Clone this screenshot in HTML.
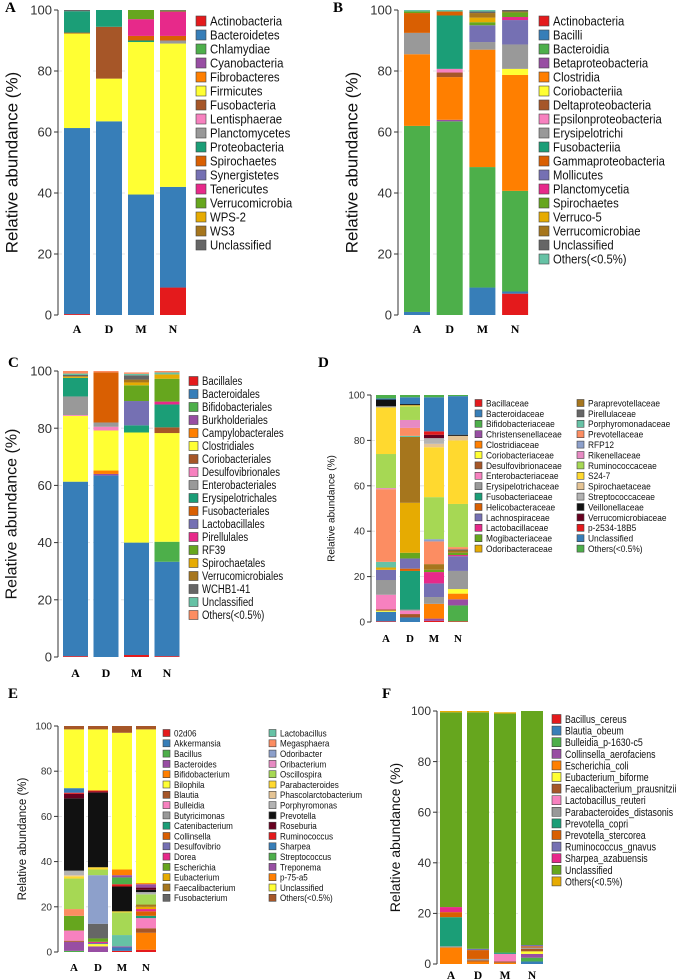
<!DOCTYPE html>
<html><head><meta charset="utf-8"><style>
html,body{margin:0;padding:0;background:#fff}
svg{display:block;font-family:"Liberation Sans",sans-serif}
</style></head><body>
<svg id="fig" width="685" height="980" viewBox="0 0 685 980" xmlns="http://www.w3.org/2000/svg"></svg>
<script>
const PAL=['#e41a1c','#377eb8','#4daf4a','#984ea3','#ff7f00','#ffff33','#a65628','#f781bf','#999999','#1b9e77','#d95f02','#7570b3','#e7298a','#66a61e','#e6ab02','#a6761d','#666666','#66c2a5','#fc8d62','#8da0cb','#e78ac3','#a6d854','#ffd92f','#e5c494','#b3b3b3','#111111','#67001f'];
const groups=['A','D','M','N'];
const yTicks=[0,20,40,60,80,100];

// Panel A (phylum)
const A_names=['Actinobacteria','Bacteroidetes','Chlamydiae','Cyanobacteria','Fibrobacteres','Firmicutes','Fusobacteria','Lentisphaerae','Planctomycetes','Proteobacteria','Spirochaetes','Synergistetes','Tenericutes','Verrucomicrobia','WPS-2','WS3','Unclassified'];
const A_values=[[0.3,0,0,9],[61,63.5,39.5,33],[0,0,0,0],[0,0,0,0],[0,0,0,0],[31,14,50,47],[0.3,17,0,0],[0,0,0,0],[0,0,0,1],[7,5.5,0.5,0],[0,0,1.5,1.5],[0,0,0,0],[0,0,5.5,8],[0,0,3,0.3],[0,0,0,0],[0,0,0,0],[0.4,0,0,0.2]];
// Panel B (class)
const B_names=['Actinobacteria','Bacilli','Bacteroidia','Betaproteobacteria','Clostridia','Coriobacteriia','Deltaproteobacteria','Epsilonproteobacteria','Erysipelotrichi','Fusobacteriia','Gammaproteobacteria','Mollicutes','Planctomycetia','Spirochaetes','Verruco-5','Verrucomicrobiae','Unclassified','Others(<0.5%)'];
const B_values=[[0,0,0,7],[1,0,9,0.7],[61,63.5,39.5,33],[0,0.5,0,0],[23.5,14,38.5,38],[0,0,0,2],[0,1.5,0,0],[0,1.2,0,0],[7,0,2.5,8],[0,17.5,0,0],[6.5,1.3,0,0],[0,0,5.5,8],[0,0,0,1],[0.5,0,1,1.5],[0,0,1.5,0],[0,0,1.5,0.3],[0,0,0.5,0.5],[0.5,0.5,0.5,0]];
// Panel C (order)
const C_names=['Bacillales','Bacteroidales','Bifidobacteriales','Burkholderiales','Campylobacterales','Clostridiales','Coriobacteriales','Desulfovibrionales','Enterobacteriales','Erysipelotrichales','Fusobacteriales','Lactobacillales','Pirellulales','RF39','Spirochaetales','Verrucomicrobiales','WCHB1-41','Unclassified','Others(<0.5%)'];
const C_values=[[0.3,0,0.7,0.3],[61,63.5,39.3,33],[0,0,0,7],[0,0.5,0,0],[0,1.2,0,0],[23,14,38.5,38],[0,0,0,2],[0.3,1.3,0,0],[6.5,1.5,0,0],[6.5,0,2.5,8],[0,17.5,0,0],[0,0,8.5,0],[0,0,0,1],[0,0,5.5,8],[0.5,0,1,1.5],[0,0,1,0],[0.5,0,1.5,0],[0.5,0,0.5,0.7],[0.9,0.5,0.5,0.5]];
// Panel D (family)
const D_names=['Bacillaceae','Bacteroidaceae','Bifidobacteriaceae','Christensenellaceae','Clostridiaceae','Coriobacteriaceae','Desulfovibrionaceae','Enterobacteriaceae','Erysipelotrichaceae','Fusobacteriaceae','Helicobacteraceae','Lachnospiraceae','Lactobacillaceae','Mogibacteriaceae','Odoribacteraceae','Paraprevotellaceae','Pirellulaceae','Porphyromonadaceae','Prevotellaceae','RFP12','Rikenellaceae','Ruminococcaceae','S24-7','Spirochaetaceae','Streptococcaceae','Veillonellaceae','Verrucomicrobiaceae','p-2534-18B5','Unclassified','Others(<0.5%)'];
const D_values=[[0.3,0,0.5,0.3],[4.2,2,0,0],[0,0,0,7],[0,0,1,2.7],[0,0,6.5,2.5],[0.5,0,0,2],[0.5,1.5,0,0],[6.5,1.5,0,0],[6.5,0.5,3,8],[0,17,0,0],[0,1,0,0],[4.5,4.5,6,6.5],[0,0,5,0.5],[0,2.5,1,1],[1,22,0,0],[0,29,2.5,1],[0,0,0,0.5],[2.5,0.5,0,0],[32,3.5,10,1],[0,0,1,0],[0.5,3.5,0,0],[15,6,18.5,19],[20.5,0.5,22,28],[0,0,1.5,2],[0.5,0,2.5,0],[3,0.5,0,0.5],[0,0,1.5,0],[0,0,1.5,0],[0.5,3,15,17],[1.5,1,1,0.5]];
// Panel E (genus)
const E_names=['02d06','Akkermansia','Bacillus','Bacteroides','Bifidobacterium','Bilophila','Blautia','Bulleidia','Butyricimonas','Catenibacterium','Collinsella','Desulfovibrio','Dorea','Escherichia','Eubacterium','Faecalibacterium','Fusobacterium','Lactobacillus','Megasphaera','Odoribacter','Oribacterium','Oscillospira','Parabacteroides','Phascolarctobacterium','Porphyromonas','Prevotella','Roseburia','Ruminococcus','Sharpea','Streptococcus','Treponema','p-75-a5','Unclassified','Others(<0.5%)'];
const E_values=[[0,0,0.5,1],[0,0,1.5,0],[0.5,0,0,0],[4,2.5,0.5,0],[0,0,0,7.5],[0,1,0,0],[0.5,0,0,2],[4.5,0,0,4.5],[0,0,0,0],[0,0,0,1],[0,0,0,2],[0,0.5,0,0],[0,0.5,0,1],[6.5,1.5,0,0],[0,0,0,1],[0,0,0,1],[0,6.5,0,0],[0,0,5,0],[3,0,0,0],[0,21.5,0,0],[0,0,0,0],[13.5,2.5,10,4.5],[1,1,0.5,0],[0.5,0,0,0],[2,0,0,1],[32,33,11,1],[2,0.5,0,1],[0.5,0.5,1,0],[2,0,0,0],[0,0,3,0],[0,0,1,1.5],[0,0,2.5,0.5],[26,27,60.5,68],[1.5,1.5,3,1.5]];
// Panel F (species)
const F_names=['Bacillus_cereus','Blautia_obeum','Bulleidia_p-1630-c5','Collinsella_aerofaciens','Escherichia_coli','Eubacterium_biforme','Faecalibacterium_prausnitzii','Lactobacillus_reuteri','Parabacteroides_distasonis','Prevotella_copri','Prevotella_stercorea','Ruminococcus_gnavus','Sharpea_azabuensis','Unclassified','Others(<0.5%)'];
const F_values=[[0,0,0,0],[0,0,0,1],[0,0,0,1.5],[0,0,0,1.5],[6.5,1,0.5,0],[0,0,0,1],[0,0.5,0.5,1],[0,0,3,0],[0.5,0.5,0,0.5],[11.5,0,0.5,0],[2,3.5,0,0.5],[0,0.5,0,0.5],[2,0,0,0],[77,93.5,94.5,92.5],[0.5,0.5,0.5,0]];

const NS='http://www.w3.org/2000/svg';
const svg=document.getElementById('fig');
function mk(tag,attrs,parent,txt){const e=document.createElementNS(NS,tag);for(const k in attrs)e.setAttribute(k,attrs[k]);if(txt!==undefined)e.textContent=txt;(parent||svg).appendChild(e);return e;}

const panels=[
 {id:'a',letter:'A',lx:5,ly:12,names:A_names,values:A_values,axisX:58,yTop:10,yBot:315,b0:64,step:32,bw:26,tf:13,titleX:12,titleF:17,xlY:333,xlF:12,leg:{x:196,y:21,dy:14,f:12.5,sq:0.91,sw:10,cols:[17],cx:0}},
 {id:'b',letter:'B',lx:333,ly:12,names:B_names,values:B_values,axisX:398,yTop:10,yBot:315,b0:404,step:32.7,bw:26,tf:13,titleX:352,titleF:17,xlY:333,xlF:12,leg:{x:539,y:21,dy:14,f:12.5,sq:0.9,sw:10,cols:[18],cx:0}},
 {id:'c',letter:'C',lx:8,ly:367,names:C_names,values:C_values,axisX:58,yTop:371,yBot:657,b0:63,step:30.5,bw:25,tf:13,titleX:12,titleF:16,xlY:677,xlF:12,leg:{x:189,y:381,dy:13,f:11.5,sq:0.83,sw:9,cols:[19],cx:0}},
 {id:'d',letter:'D',lx:318,ly:367,names:D_names,values:D_values,axisX:371,yTop:395,yBot:622,b0:376,step:24,bw:20,tf:10,titleX:332,titleF:10,xlY:642,xlF:11,leg:{x:475,y:403,dy:10.4,f:9.5,sq:0.88,sw:7,cols:[15,15],cx:102}},
 {id:'e',letter:'E',lx:8,ly:698,names:E_names,values:E_values,axisX:58,yTop:726,yBot:952,b0:64,step:24,bw:20,tf:10,titleX:23,titleF:11.5,xlY:971,xlF:11,leg:{x:163,y:733,dy:10.3,f:9.5,sq:0.85,sw:7,cols:[17,17],cx:106}},
 {id:'f',letter:'F',lx:382,ly:698,names:F_names,values:F_values,axisX:437,yTop:711,yBot:964,b0:440,step:27,bw:22,tf:12,titleX:395,titleF:14,xlY:979,xlF:11.5,leg:{x:552,y:719,dy:11.6,f:11,sq:0.8,sw:9,cols:[15],cx:0}}
];

panels.forEach(p=>{
 const g=mk('g',{});
 
 
 const yS=v=>p.yBot-(v/100)*(p.yBot-p.yTop);
 const xS=i=>p.b0+i*p.step;
 const right=xS(groups.length-1)+p.bw;
 const lt=mk('text',{x:p.lx,y:p.ly,'font-family':'Liberation Serif,serif','font-weight':'bold','font-size':15,fill:'#000'},g,p.letter);
 
 
 yTicks.forEach(t=>{ if(t>0&&t<100){const gl=mk('line',{x1:p.axisX,x2:right,y1:yS(t),y2:yS(t),stroke:'#ddd','stroke-dasharray':'4,3','stroke-width':0.8},g);}});
 groups.forEach((c,i)=>{
  let acc=0;
  p.values.forEach((vals,s)=>{
   const v=vals[i]; if(!v) return;
   const r=mk('rect',{x:xS(i),y:yS(acc+v),width:p.bw,height:yS(acc)-yS(acc+v),fill:PAL[s%PAL.length]},g);
   
   
   acc+=v;
  });
  const xl=mk('text',{x:xS(i)+p.bw/2,y:p.xlY,'text-anchor':'middle','font-family':'Liberation Serif,serif','font-weight':'bold','font-size':p.xlF,fill:'#000'},g,c);
  
  
 });
 const ax=mk('line',{x1:p.axisX,x2:p.axisX,y1:yS(100),y2:yS(0),stroke:'#333','stroke-width':1},g);
 
 
 yTicks.forEach(t=>{
  mk('line',{x1:p.axisX-4,x2:p.axisX,y1:yS(t),y2:yS(t),stroke:'#333'},g);
  const tl=mk('text',{x:p.axisX-6,y:yS(t)+p.tf*0.35,'text-anchor':'end','font-size':p.tf,fill:'#333'},g,String(t));
  
  
 });
 const cy=(p.yTop+p.yBot)/2;
 const tt=mk('text',{x:p.titleX,y:cy,'text-anchor':'middle','dominant-baseline':'central','font-size':p.titleF,fill:'#111',transform:`rotate(-90 ${p.titleX} ${cy})`},g,'Relative abundance (%)');
 
 
 const L=p.leg; let idx=0;
 L.cols.forEach((n,ci)=>{
  for(let r=0;r<n;r++,idx++){
   const yy=L.y+r*L.dy, xx=L.x+ci*L.cx;
   const lg=mk('g',{},g);
   
   
   mk('rect',{x:xx,y:yy-L.sw/2,width:L.sw,height:L.sw,fill:PAL[idx%PAL.length],stroke:'#444','stroke-width':0.6},lg);
   const te=mk('text',{x:xx+L.sw+4,y:yy+L.f*0.36,'font-size':L.f,fill:'#111'},lg,p.names[idx]);
   const w=te.getComputedTextLength();
   if(w>0){te.setAttribute('textLength',(w*L.sq).toFixed(1));te.setAttribute('lengthAdjust','spacingAndGlyphs');}
  }
 });
});
</script>
</body></html>
